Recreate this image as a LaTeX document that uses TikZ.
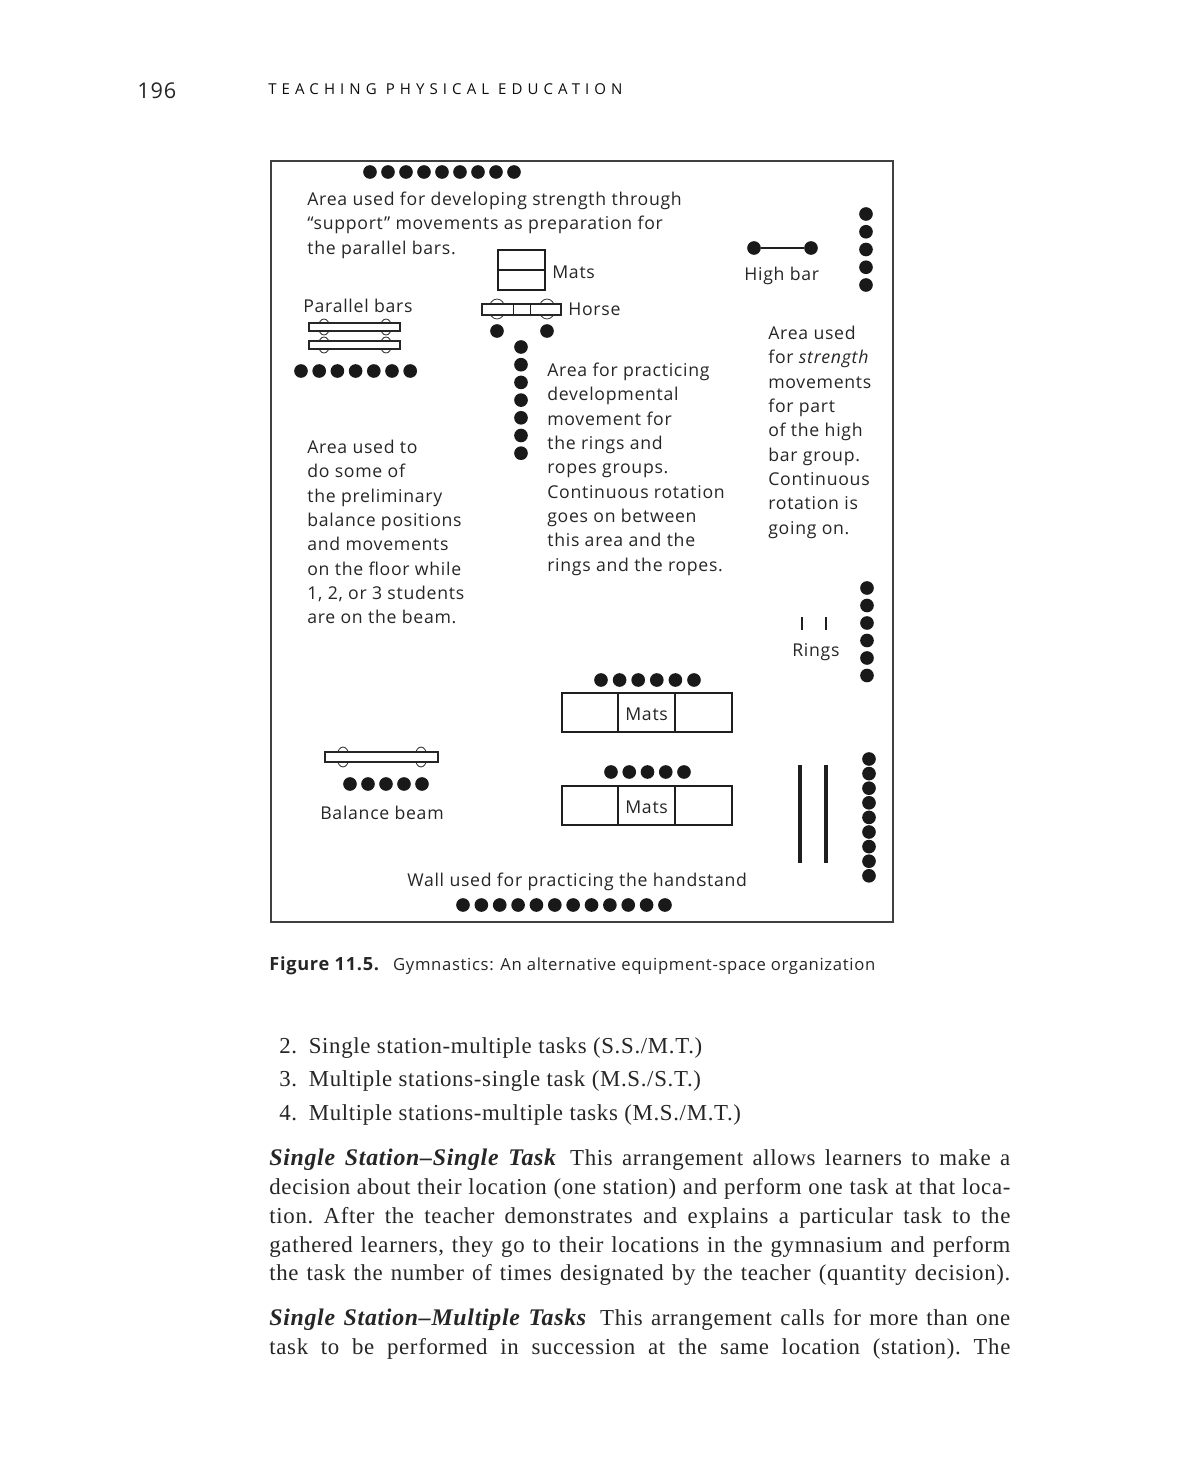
\documentclass[tikz,border=0pt]{standalone}
\usepackage{fontspec}
\setmainfont{Liberation Serif}
\setsansfont[LetterSpace=4]{Open Sans}
\newfontfamily\capsfont[LetterSpace=34]{Open Sans}
\newfontfamily\bodyfont[LetterSpace=3]{Liberation Serif}
\newcommand{\firstline}{\rule{0pt}{10pt}}
\newcommand{\runin}[1]{{\fontsize{14.3}{17}\selectfont\textit{\textbf{#1}}}}
\tikzset{
  x=0.6pt,y=-0.6pt,
  ink/.style={draw=black!88,line width=0.75pt},
  frameline/.style={draw=black!75,line width=0.9pt},
  dot/.style={circle,fill=black!90,inner sep=0pt,minimum size=8.2pt},
  lab/.style={anchor=base west,inner sep=0pt,font=\sffamily\fontsize{10.6}{14.6}\selectfont,text=black!85},
  mlab/.style={anchor=north west,inner sep=0pt,yshift=10pt,align=left,font=\sffamily\fontsize{10.6}{14.6}\selectfont,text=black!85},
  bodyline/.style={anchor=base west,inner sep=0pt,font=\bodyfont\fontsize{13.7}{17}\selectfont\frenchspacing,text=black!85},
  pad/.style={draw=black!80,line width=0.5pt,fill=white},
  plank/.style={draw=black!85,line width=0.7pt,fill=white},
}
\begin{document}
\begin{tikzpicture}
\useasboundingbox[fill=white] (0,0) rectangle (1200,1480);
% page header
\node[anchor=base west,inner sep=0pt,font=\sffamily\fontsize{13}{15}\selectfont,text=black!85] (pageno) at (137,99) {196};
\node[anchor=base west,inner sep=0pt,font=\capsfont\fontsize{9}{10}\selectfont,text=black!95] (runhead) at (268,94) {TEACHING PHYSICAL EDUCATION};
% frame
\draw[frameline] (271,161) rectangle (893,922);
% dots
\foreach \i in {0,...,8} \node[dot] (top\i) at ({370+18*\i},172) {};
\foreach \i in {0,...,4} \node[dot] (hb\i) at (866,{214+17.75*\i}) {};
\foreach \i in {0,...,6} \node[dot] (pb\i) at ({301+18.2*\i},371) {};
\node[dot] (hs0) at (497,331) {};
\node[dot] (hs1) at (547,331) {};
\foreach \i in {0,...,6} \node[dot] (mid\i) at (521,{347+17.7*\i}) {};
\foreach \i in {0,...,5} \node[dot] (rg\i) at (867,{588+17.5*\i}) {};
\foreach \i in {0,...,5} \node[dot] (ma\i) at ({601+18.6*\i},680) {};
\foreach \i in {0,...,4} \node[dot] (mb\i) at ({611+18.25*\i},772) {};
\foreach \i in {0,...,4} \node[dot] (bb\i) at ({350+18*\i},784) {};
\foreach \i in {0,...,8} \node[dot] (wr\i) at (869,{759+14.6*\i}) {};
\foreach \i in {0,...,11} \node[dot] (wb\i) at ({463+18.36*\i},905) {};
% high bar
\node[dot] (hbl) at (754,248) {};
\node[dot] (hbr) at (811,248) {};
\draw[ink,line width=1.6pt] (hbl) -- (hbr);
% upper mats
\draw[ink] (498,250) rectangle (545,290);
\draw[ink] (498,270) -- (545,270);
% horse
\draw[pad] (497,309) ellipse (8 and 10);
\draw[pad] (547,309) ellipse (8 and 10);
\draw[plank] (482,304) rectangle (561,315);
\draw[ink,line width=0.6pt] (513,304) -- (513,315) (530,304) -- (530,315);
% parallel bars
\foreach \yy in {327,345}{
  \draw[pad] (324,\yy) ellipse (5.5 and 8);
  \draw[pad] (386,\yy) ellipse (5.5 and 8);
  \draw[plank] (309,{\yy-4}) rectangle (400,{\yy+4});
}
% balance beam
\draw[pad] (343,757) ellipse (6 and 10);
\draw[pad] (421,757) ellipse (6 and 10);
\draw[plank] (325,752) rectangle (438,762);
% wide mats
\foreach \yy in {693,786}{
  \draw[ink] (562,\yy) rectangle (732,{\yy+39});
  \draw[ink] (618,\yy) -- (618,{\yy+39}) (675,\yy) -- (675,{\yy+39});
}
% wall lines and rings
\draw[ink,line width=2pt] (800,765) -- (800,863);
\draw[ink,line width=2pt] (826,765) -- (826,863);
\draw[ink,line width=1.6pt] (802,617) -- (802,630);
\draw[ink,line width=1.6pt] (826,617) -- (826,630);
% labels
\node[mlab] (t1) at (307,205) {\firstline Area used for developing strength through\\“support” movements as preparation for\\the parallel bars.};
\node[lab] (t2) at (552,278) {Mats};
\node[lab] (t3) at (744,280) {High bar};
\node[lab] (t4) at (303,312) {Parallel bars};
\node[lab] (t5) at (568,315) {Horse};
\node[mlab] (t6) at (768,339) {\firstline Area used\\for \textit{strength}\\movements\\for part\\of the high\\bar group.\\Continuous\\rotation is\\going on.};
\node[mlab] (t7) at (547,376) {\firstline Area for practicing\\developmental\\movement for\\the rings and\\ropes groups.\\Continuous rotation\\goes on between\\this area and the\\rings and the ropes.};
\node[mlab] (t8) at (307,453) {\firstline Area used to\\do some of\\the preliminary\\balance positions\\and movements\\on the floor while\\1, 2, or 3 students\\are on the beam.};
\node[lab] (t9) at (792,656) {Rings};
\node[lab] (t10) at (625,720) {Mats};
\node[lab] (t11) at (625,813) {Mats};
\node[lab] (t12) at (320,819) {Balance beam};
\node[lab] (t13) at (407,886) {Wall used for practicing the handstand};
% caption
\node[anchor=base west,inner sep=0pt,font=\sffamily\fontsize{10}{12}\selectfont,text=black!85] (cap) at (269,970) {{\fontsize{10.9}{12}\selectfont\textbf{Figure 11.5.}}\hspace{8pt}Gymnastics: An alternative equipment-space organization};
% body text
\node[bodyline] (l2) at (279,1053) {2.\hspace{7pt}Single station-multiple tasks (S.S./M.T.)};
\node[bodyline] (l3) at (279,1086) {3.\hspace{7pt}Multiple stations-single task (M.S./S.T.)};
\node[bodyline] (l4) at (279,1120) {4.\hspace{7pt}Multiple stations-multiple tasks (M.S./M.T.)};
\node[bodyline] (p1) at (269,1165) {\makebox[444.6pt][s]{\runin{Single Station–Single Task}\hspace{8pt}This arrangement allows learners to make a}};
\node[bodyline] (p2) at (269,1194) {\makebox[444.6pt][s]{decision about their location (one station) and perform one task at that loca-}};
\node[bodyline] (p3) at (269,1223) {\makebox[444.6pt][s]{tion. After the teacher demonstrates and explains a particular task to the}};
\node[bodyline] (p4) at (269,1252) {\makebox[444.6pt][s]{gathered learners, they go to their locations in the gymnasium and perform}};
\node[bodyline] (p5) at (269,1280) {\makebox[444.6pt][s]{the task the number of times designated by the teacher (quantity decision).}};
\node[bodyline] (q1) at (269,1325) {\makebox[444.6pt][s]{\runin{Single Station–Multiple Tasks}\hspace{8pt}This arrangement calls for more than one}};
\node[bodyline] (q2) at (269,1354) {\makebox[444.6pt][s]{task to be performed in succession at the same location (station). The}};
\end{tikzpicture}
\end{document}
